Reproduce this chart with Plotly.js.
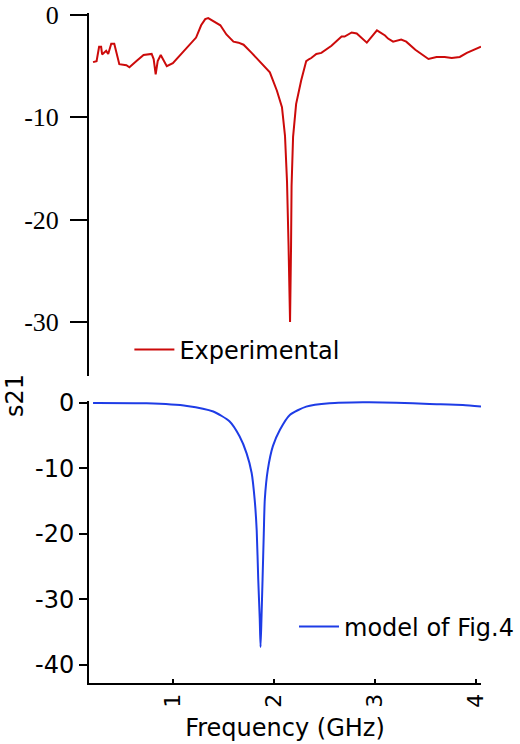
<!DOCTYPE html>
<html>
<head>
<meta charset="utf-8">
<script src="https://cdn.plot.ly/plotly-3.0.1.min.js"></script>
<style>html,body{margin:0;padding:0;background:#fff;}#chart{width:520px;height:744px;}</style>
</head>
<body>
<div id="chart"></div>
<script>
// Experimental s21 (top panel)
var expFreq = [0.21,0.245,0.27,0.29,0.30,0.34,0.36,0.39,0.42,0.44,0.47,0.54,0.57,0.64,0.71,0.79,0.81,0.83,0.85,0.88,0.94,1.0,1.09,1.17,1.23,1.28,1.32,1.35,1.40,1.47,1.53,1.60,1.65,1.70,1.78,1.86,1.96,2.03,2.08,2.11,2.13,2.145,2.16,2.17,2.175,2.19,2.22,2.27,2.32,2.35,2.37,2.42,2.47,2.57,2.67,2.70,2.77,2.82,2.92,3.02,3.10,3.13,3.18,3.26,3.31,3.40,3.48,3.53,3.61,3.69,3.76,3.84,3.91,3.99,4.05];
var expS21 = [-4.6,-4.5,-3.1,-3.1,-3.85,-3.5,-3.8,-2.8,-2.8,-3.7,-4.8,-4.9,-5.1,-4.5,-3.9,-3.8,-4.3,-5.8,-4.5,-3.9,-5.0,-4.7,-3.7,-2.9,-2.2,-1.0,-0.4,-0.3,-0.6,-1.0,-1.9,-2.6,-2.7,-2.9,-3.7,-4.5,-5.6,-7.4,-9.0,-11.8,-16.3,-22.5,-30.0,-22.5,-16.7,-11.9,-8.7,-6.4,-4.5,-4.3,-4.2,-3.8,-3.7,-3.0,-2.1,-2.1,-1.7,-1.8,-2.7,-1.5,-2.0,-2.3,-2.6,-2.4,-2.6,-3.4,-4.0,-4.3,-4.1,-4.1,-4.2,-4.1,-3.7,-3.4,-3.1];

// Model of Fig.4 s21 (bottom panel)
var modFreq = [0.21,0.74,1.14,1.40,1.56,1.66,1.73,1.78,1.81,1.83,1.845,1.86,1.868,1.877,1.888,1.90,1.91,1.94,1.99,2.06,2.16,2.32,2.55,2.88,3.21,3.54,3.87,4.05];
var modS21 = [0.0,-0.05,-0.45,-1.3,-2.8,-5.1,-7.7,-10.7,-14.8,-19.5,-26.9,-33.0,-37.3,-33.0,-26.9,-20.0,-14.8,-10.2,-6.6,-4.1,-1.8,-0.56,-0.05,0.1,0.05,-0.15,-0.3,-0.56];

var xTicks = [1,2,3,4];
var topTicks = [0,-10,-20,-30];
var topTickText = ['0','-10','-20','-30'];
var botTicks = [0,-10,-20,-30,-40];
var botTickText = ['0','-10','-20','-30','-40'];

var sans = 'DejaVu Sans, sans-serif';
var serif = 'Liberation Serif, Times New Roman, serif';

var traces = [
  {x: expFreq, y: expS21, xaxis:'x', yaxis:'y2', mode:'lines', name:'Experimental',
   line:{color:'#cc0a0a', width:2}, legend:'legend'},
  {x: modFreq, y: modS21, xaxis:'x', yaxis:'y', mode:'lines', name:'model of Fig.4',
   line:{color:'#1e3ce6', width:2, shape:'spline', smoothing:0.6}, legend:'legend2'}
];

var layout = {
  width:520, height:744,
  margin:{l:89, r:39, t:13, b:61, autoexpand:false},
  paper_bgcolor:'#fff', plot_bgcolor:'#fff',
  showlegend:true,
  xaxis:{range:[0.17,4.05], anchor:'y', showline:true, linecolor:'#000', linewidth:2,
    showgrid:false, zeroline:false, ticks:'inside', ticklen:4, tickwidth:2, tickcolor:'#000',
    tickvals:xTicks, ticktext:xTicks.map(String), tickangle:-90,
    tickfont:{family:sans, size:22, color:'#000'},
    title:{text:'Frequency (GHz)', font:{family:sans, size:24, color:'#000'}, standoff:12}},
  yaxis:{domain:[0,0.4209], range:[-42.8,0.3], anchor:'x', showline:true, linecolor:'#000', linewidth:2,
    showgrid:false, zeroline:false, ticks:'outside', ticklen:8, tickwidth:2, tickcolor:'#000',
    tickvals:botTicks, ticktext:botTickText, ticklabelstandoff:0, ticklabeloverflow:'allow',
    tickfont:{family:sans, size:24, color:'#000'}},
  yaxis2:{domain:[0.4582,1], range:[-35.28,0.2], anchor:'x', showline:true, linecolor:'#000', linewidth:2,
    showgrid:false, zeroline:false, ticks:'outside', ticklen:17, tickwidth:2, tickcolor:'#000',
    tickvals:topTicks, ticktext:topTickText, ticklabelstandoff:6, ticklabeloverflow:'allow',
    tickfont:{family:serif, size:26, color:'#000'}},
  legend:{x:0.103, y:(683-350)/670, xanchor:'left', yanchor:'middle', bgcolor:'rgba(0,0,0,0)',
    font:{family:sans, size:24, color:'#000'}, itemwidth:40},
  legend2:{x:0.523, y:(683-627)/670, xanchor:'left', yanchor:'middle', bgcolor:'rgba(0,0,0,0)',
    font:{family:sans, size:24, color:'#000'}, itemwidth:40},
  annotations:[{text:'s21', xref:'paper', yref:'paper', x:(15-89)/392, y:(683-396)/670,
    xanchor:'center', yanchor:'middle',
    showarrow:false, textangle:-90, font:{family:sans, size:24, color:'#000'}}]
};

Plotly.newPlot('chart', traces, layout, {staticPlot:true, displayModeBar:false});
</script>
</body>
</html>
